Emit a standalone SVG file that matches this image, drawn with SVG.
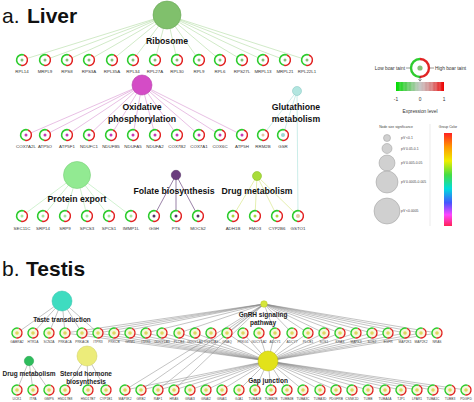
<svg xmlns="http://www.w3.org/2000/svg" xmlns:xlink="http://www.w3.org/1999/xlink" width="474" height="402" viewBox="0 0 474 402">
<style>
text{font-family:"Liberation Sans",Arial,sans-serif}
.ttl{font-size:21px;fill:#111}
.hl{font-size:8.7px;font-weight:bold;fill:#111;text-anchor:middle}
.ht{font-size:6.5px;font-weight:bold;fill:#222;text-anchor:middle}
.gl{font-size:4.4px;fill:#333;text-anchor:middle}
.gt{font-size:3.3px;fill:#444;text-anchor:middle}
.lg{font-size:4.8px;fill:#333}
.lgs{font-size:3.4px;fill:#444}
.cR{stroke:#b2dca2;stroke-width:0.6;fill:none}
.cO{stroke:#d996d2;stroke-width:0.6;fill:none}
.cG{stroke:#a8e0da;stroke-width:0.6;fill:none}
.cP{stroke:#b2eab2;stroke-width:0.6;fill:none}
.cF{stroke:#6e4c82;stroke-width:0.7;fill:none}
.cD{stroke:#d4e47a;stroke-width:0.6;fill:none}
.cT{stroke:#888888;stroke-width:0.5;fill:none}
.dR{fill:#86c078}.dO{fill:#c43cb4}.dG{fill:#9ed8d2}.dP{fill:#a6e6a0}.dF{fill:#553366}.dD{fill:#a8d840}.dM{fill:#e2c6a4}.dT{fill:#dcd860}
</style>
<defs>
<g id="rl"><circle r="5.4" fill="#fff"/><path d="M1.85,-5.07A5.4,5.4 0 0 1 -0.94,5.32" stroke="#e22424" stroke-width="1.6" fill="none"/><path d="M-0.94,5.32A5.4,5.4 0 1 1 1.85,-5.07" stroke="#2ecc2e" stroke-width="1.6" fill="none"/></g>
<g id="rt"><circle r="5" fill="#f8f6dc"/><path d="M1.71,-4.7A5,5 0 0 1 -0.87,4.92" stroke="#e22424" stroke-width="1.4" fill="none"/><path d="M-0.87,4.92A5,5 0 1 1 1.71,-4.7" stroke="#2ecc2e" stroke-width="1.4" fill="none"/><circle r="1.8" class="dT"/></g>
<linearGradient id="gExp" x1="0" y1="0" x2="1" y2="0">
<stop offset="0" stop-color="#00dd00"/><stop offset="0.25" stop-color="#66cc66"/><stop offset="0.5" stop-color="#c8c8c8"/><stop offset="0.75" stop-color="#d88080"/><stop offset="1" stop-color="#ee0000"/>
</linearGradient>
<linearGradient id="gGrp" x1="0" y1="0" x2="0" y2="1">
<stop offset="0" stop-color="#ff2222"/><stop offset="0.15" stop-color="#ff9900"/><stop offset="0.3" stop-color="#eeee00"/><stop offset="0.45" stop-color="#44dd44"/><stop offset="0.6" stop-color="#00dddd"/><stop offset="0.75" stop-color="#4455ff"/><stop offset="0.88" stop-color="#ff44ff"/><stop offset="1" stop-color="#ff2255"/>
</linearGradient>
</defs>

<text class="ttl" x="2" y="23">a.<tspan x="27" font-weight="bold">Liver</tspan></text>
<text class="ttl" x="2" y="276">b.<tspan x="26" font-weight="bold">Testis</tspan></text>

<g id="connectors">
<path class="cR" d="M167 15L22 60M167 15L45 60M167 15L67 60M167 15L89 60M167 15L112 60M167 15L133 60M167 15L155 60M167 15L177 60M167 15L199 60M167 15L220 60M167 15L242 60M167 15L263 60M167 15L285 60M167 15L307 60"/>
<path class="cO" d="M142 85L26 135M142 85L45 135M142 85L67 135M142 85L89 135M142 85L111 135M142 85L133 135M142 85L155 135M142 85L177 135M142 85L199 135M142 85L220 135M142 85L242 135"/>
<path class="cG" d="M297 91L263 135M297 91L283 135M297 91L298 216"/>
<path class="cP" d="M77 175L22 216M77 175L43 216M77 175L65 216M77 175L87 216M77 175L109 216M77 175L131 216"/>
<path class="cF" d="M176 175L154 216M176 175L176 216M176 175L198 216"/>
<path class="cD" d="M257 176L233 216M257 176L255 216M257 176L277 216M257 176L298 216"/>
<path class="cT" d="M62 301L17 333M62 301L33 333M62 301L49 333M62 301L65 333M62 301L82 333M62 301L98 333"/>
<path class="cT" d="M264 304L65 333M264 304L82 333M264 304L98 333M264 304L114 333M264 304L146 333M264 304L179 333M264 304L227 333M264 304L275 333M264 304L292 333M264 304L308 333M264 304L324 333M264 304L340 333M264 304L356 333M264 304L372 333M264 304L388 333M264 304L405 333M264 304L421 333M264 304L437 333M264 304L125 390M264 304L141 390M264 304L158 390M264 304L174 390"/>
<path class="cT" d="M268 361L65 333M268 361L82 333M268 361L98 333M268 361L114 333M268 361L130 333M268 361L146 333M268 361L162 333M268 361L179 333M268 361L195 333M268 361L227 333M268 361L243 333M268 361L259 333M268 361L275 333M268 361L292 333M268 361L308 333M268 361L324 333M268 361L340 333M268 361L356 333M268 361L372 333M268 361L388 333M268 361L405 333M268 361L421 333M268 361L437 333"/>
<path class="cT" d="M268 361L125 390M268 361L141 390M268 361L158 390M268 361L174 390M268 361L190 390M268 361L206 390M268 361L222 390M268 361L239 390M268 361L255 390M268 361L271 390M268 361L287 390M268 361L303 390M268 361L320 390M268 361L336 390M268 361L352 390M268 361L368 390M268 361L385 390M268 361L401 390M268 361L417 390M268 361L433 390M268 361L450 390M268 361L466 390"/>
<path class="cT" d="M29 361L17 390M29 361L33 390M29 361L49 390M87 356L65 390M87 356L88 390M87 356L106 390"/>
</g>

<!-- Liver hubs -->
<g id="hub-ribosome"><circle cx="167" cy="15" r="14" fill="#80c06c" stroke="#6aa858" stroke-width="0.6"/><text class="hl" x="167" y="44">Ribosome</text></g>
<g id="hub-oxphos"><circle cx="142" cy="85" r="10" fill="#d44cc6" stroke="#b43aa8" stroke-width="0.6"/><text class="hl" x="142" y="110">Oxidative</text><text class="hl" x="142" y="122">phosphorylation</text></g>
<g id="hub-glutathione"><circle cx="297" cy="91" r="4.5" fill="#b2e6e0" stroke="#8ccac4" stroke-width="0.6"/><text class="hl" x="296" y="110">Glutathione</text><text class="hl" x="296" y="122">metabolism</text></g>
<g id="hub-protein"><circle cx="77" cy="175" r="13.5" fill="#92ea92" stroke="#78d078" stroke-width="0.6"/><text class="hl" x="77" y="202">Protein export</text></g>
<g id="hub-folate"><circle cx="176" cy="175" r="4.7" fill="#6b3d7e" stroke="#553066" stroke-width="0.6"/><text class="hl" x="174" y="194">Folate biosynthesis</text></g>
<g id="hub-drug-liver"><circle cx="257" cy="176" r="4.5" fill="#a8dc3a" stroke="#8cc02a" stroke-width="0.6"/><text class="hl" x="257" y="194">Drug metabolism</text></g>

<!-- Ribosome genes -->
<g id="RPL14"><use href="#rl" x="22" y="60"/><circle cx="22" cy="60" r="1.5" class="dR"/><text class="gl" x="22" y="73">RPL14</text></g>
<g id="MRPL9"><use href="#rl" x="45" y="60"/><circle cx="45" cy="60" r="1.5" class="dR"/><text class="gl" x="45" y="73">MRPL9</text></g>
<g id="RPS8"><use href="#rl" x="67" y="60"/><circle cx="67" cy="60" r="1.5" class="dR"/><text class="gl" x="67" y="73">RPS8</text></g>
<g id="RPS3A"><use href="#rl" x="89" y="60"/><circle cx="89" cy="60" r="1.5" class="dR"/><text class="gl" x="89" y="73">RPS3A</text></g>
<g id="RPL35A"><use href="#rl" x="112" y="60"/><circle cx="112" cy="60" r="1.5" class="dR"/><text class="gl" x="112" y="73">RPL35A</text></g>
<g id="RPL34"><use href="#rl" x="133" y="60"/><circle cx="133" cy="60" r="1.5" class="dR"/><text class="gl" x="133" y="73">RPL34</text></g>
<g id="RPL27A"><use href="#rl" x="155" y="60"/><circle cx="155" cy="60" r="1.5" class="dR"/><text class="gl" x="155" y="73">RPL27A</text></g>
<g id="RPL30"><use href="#rl" x="177" y="60"/><circle cx="177" cy="60" r="1.5" class="dR"/><text class="gl" x="177" y="73">RPL30</text></g>
<g id="RPL9"><use href="#rl" x="199" y="60"/><circle cx="199" cy="60" r="1.5" class="dR"/><text class="gl" x="199" y="73">RPL9</text></g>
<g id="RPL6"><use href="#rl" x="220" y="60"/><circle cx="220" cy="60" r="1.5" class="dR"/><text class="gl" x="220" y="73">RPL6</text></g>
<g id="RPS27L"><use href="#rl" x="242" y="60"/><circle cx="242" cy="60" r="1.5" class="dR"/><text class="gl" x="242" y="73">RPS27L</text></g>
<g id="MRPL13"><use href="#rl" x="263" y="60"/><circle cx="263" cy="60" r="1.5" class="dR"/><text class="gl" x="263" y="73">MRPL13</text></g>
<g id="MRPL21"><use href="#rl" x="285" y="60"/><circle cx="285" cy="60" r="1.5" class="dR"/><text class="gl" x="285" y="73">MRPL21</text></g>
<g id="RPL22L1"><use href="#rl" x="307" y="60"/><circle cx="307" cy="60" r="1.5" class="dR"/><text class="gl" x="307" y="73">RPL22L1</text></g>

<!-- OxPhos genes -->
<g id="COX7A2L"><use href="#rl" x="26" y="135"/><circle cx="26" cy="135" r="1.5" class="dO"/><text class="gl" x="26" y="148">COX7A2L</text></g>
<g id="ATP5O"><use href="#rl" x="45" y="135"/><circle cx="45" cy="135" r="1.5" class="dO"/><text class="gl" x="45" y="148">ATP5O</text></g>
<g id="ATP5F1"><use href="#rl" x="67" y="135"/><circle cx="67" cy="135" r="1.5" class="dO"/><text class="gl" x="67" y="148">ATP5F1</text></g>
<g id="NDUFC1"><use href="#rl" x="89" y="135"/><circle cx="89" cy="135" r="1.5" class="dO"/><text class="gl" x="89" y="148">NDUFC1</text></g>
<g id="NDUFB5"><use href="#rl" x="111" y="135"/><circle cx="111" cy="135" r="1.5" class="dO"/><text class="gl" x="111" y="148">NDUFB5</text></g>
<g id="NDUFA5"><use href="#rl" x="133" y="135"/><circle cx="133" cy="135" r="1.5" class="dO"/><text class="gl" x="133" y="148">NDUFA5</text></g>
<g id="NDUFA2"><use href="#rl" x="155" y="135"/><circle cx="155" cy="135" r="1.5" class="dO"/><text class="gl" x="155" y="148">NDUFA2</text></g>
<g id="COX7B2"><use href="#rl" x="177" y="135"/><circle cx="177" cy="135" r="1.5" class="dO"/><text class="gl" x="177" y="148">COX7B2</text></g>
<g id="COX7A1"><use href="#rl" x="199" y="135"/><circle cx="199" cy="135" r="1.5" class="dO"/><text class="gl" x="199" y="148">COX7A1</text></g>
<g id="COX6C"><use href="#rl" x="220" y="135"/><circle cx="220" cy="135" r="1.5" class="dO"/><text class="gl" x="220" y="148">COX6C</text></g>
<g id="ATP5H"><use href="#rl" x="242" y="135"/><circle cx="242" cy="135" r="1.5" class="dO"/><text class="gl" x="242" y="148">ATP5H</text></g>
<g id="RRM2B"><use href="#rl" x="263" y="135"/><circle cx="263" cy="135" r="1.5" class="dM"/><text class="gl" x="263" y="148">RRM2B</text></g>
<g id="GSR"><use href="#rl" x="283" y="135"/><circle cx="283" cy="135" r="2" class="dG"/><text class="gl" x="283" y="148">GSR</text></g>

<!-- Protein export genes -->
<g id="SEC11C"><use href="#rl" x="22" y="216"/><circle cx="22" cy="216" r="1.5" class="dP"/><text class="gl" x="22" y="230">SEC11C</text></g>
<g id="SRP14"><use href="#rl" x="43" y="216"/><circle cx="43" cy="216" r="1.5" class="dP"/><text class="gl" x="43" y="230">SRP14</text></g>
<g id="SRP9"><use href="#rl" x="65" y="216"/><circle cx="65" cy="216" r="1.5" class="dP"/><text class="gl" x="65" y="230">SRP9</text></g>
<g id="SPCS3"><use href="#rl" x="87" y="216"/><circle cx="87" cy="216" r="1.5" class="dP"/><text class="gl" x="87" y="230">SPCS3</text></g>
<g id="SPCS1"><use href="#rl" x="109" y="216"/><circle cx="109" cy="216" r="1.5" class="dP"/><text class="gl" x="109" y="230">SPCS1</text></g>
<g id="IMMP1L"><use href="#rl" x="131" y="216"/><circle cx="131" cy="216" r="1.5" class="dP"/><text class="gl" x="131" y="230">IMMP1L</text></g>
<!-- Folate genes -->
<g id="GGH"><use href="#rl" x="154" y="216"/><circle cx="154" cy="216" r="1.5" class="dF"/><text class="gl" x="154" y="230">GGH</text></g>
<g id="PTS"><use href="#rl" x="176" y="216"/><circle cx="176" cy="216" r="1.5" class="dF"/><text class="gl" x="176" y="230">PTS</text></g>
<g id="MOCS2"><use href="#rl" x="198" y="216"/><circle cx="198" cy="216" r="1.5" class="dF"/><text class="gl" x="198" y="230">MOCS2</text></g>
<!-- Drug genes -->
<g id="ADH1B"><use href="#rl" x="233" y="216"/><circle cx="233" cy="216" r="1.5" class="dD"/><text class="gl" x="233" y="230">ADH1B</text></g>
<g id="FMO3"><use href="#rl" x="255" y="216"/><circle cx="255" cy="216" r="1.5" class="dD"/><text class="gl" x="255" y="230">FMO3</text></g>
<g id="CYP2B6"><use href="#rl" x="277" y="216"/><circle cx="277" cy="216" r="1.5" class="dD"/><text class="gl" x="277" y="230">CYP2B6</text></g>
<g id="GSTO1"><use href="#rl" x="298" y="216"/><circle cx="298" cy="216" r="2" class="dM"/><text class="gl" x="298" y="230">GSTO1</text></g>

<!-- Legend -->
<g id="legend-expression">
<line x1="406" y1="68" x2="410" y2="68" stroke="#333" stroke-width="0.5"/>
<line x1="430" y1="68" x2="434" y2="68" stroke="#333" stroke-width="0.5"/>
<text class="lg" x="405" y="69.6" text-anchor="end">Low boar taint</text>
<text class="lg" x="435" y="69.6">High boar taint</text>
<circle cx="420" cy="68" r="9" fill="#fff"/>
<path d="M420,59A9,9 0 0 1 420,77" stroke="#e22424" stroke-width="2.4" fill="none"/>
<path d="M420,77A9,9 0 0 1 420,59" stroke="#2ecc2e" stroke-width="2.4" fill="none"/>
<circle cx="420" cy="68" r="2.6" fill="#86c078"/>
<path d="M420,76V80.5M418.5,79.2L420,81.2L421.5,79.2" stroke="#333" stroke-width="0.5" fill="none"/>
<rect x="396" y="82" width="48" height="9" fill="url(#gExp)"/>
<path d="M400,82v9M404,82v9M408,82v9M412,82v9M416,82v9M424,82v9M428,82v9M432,82v9M436,82v9M440,82v9" stroke="#fff" stroke-opacity="0.35" stroke-width="0.6"/>
<text class="lg" x="396" y="101" text-anchor="middle" font-size="6">-1</text>
<text class="lg" x="420" y="101" text-anchor="middle" font-size="6">0</text>
<text class="lg" x="444" y="101" text-anchor="middle" font-size="6">1</text>
<text class="lg" x="420" y="112.5" text-anchor="middle" font-size="6.5">Expression level</text>
</g>
<g id="legend-size">
<text class="lgs" x="396" y="128" text-anchor="middle" font-size="3.8">Node size significance</text>
<line x1="430" y1="124" x2="430" y2="226" stroke="#dddddd" stroke-width="0.6"/>
<circle cx="387" cy="138" r="3.5" fill="#d0d0d0" stroke="#9a9a9a" stroke-width="0.5"/>
<circle cx="387" cy="148.5" r="5" fill="#d0d0d0" stroke="#9a9a9a" stroke-width="0.5"/>
<circle cx="387" cy="163" r="8" fill="#d0d0d0" stroke="#9a9a9a" stroke-width="0.5"/>
<circle cx="387" cy="182" r="11" fill="#d0d0d0" stroke="#9a9a9a" stroke-width="0.5"/>
<circle cx="387" cy="211" r="13" fill="#d0d0d0" stroke="#9a9a9a" stroke-width="0.5"/>
<text class="lgs" x="401" y="139">pV &lt;0.1</text>
<text class="lgs" x="401" y="149.5">pV 0.05-0.1</text>
<text class="lgs" x="401" y="164">pV 0.005-0.05</text>
<text class="lgs" x="401" y="183">pV 0.0005-0.005</text>
<text class="lgs" x="401" y="212">pV &lt;0.0005</text>
</g>
<g id="legend-group">
<text class="lgs" x="448" y="128" text-anchor="middle" font-size="3.8">Group Color</text>
<rect x="444" y="133" width="8" height="93" fill="url(#gGrp)"/>
</g>

<!-- Testis hubs -->
<g id="hub-taste"><circle cx="62" cy="301" r="10" fill="#3edcc0" stroke="#2ec0a8" stroke-width="0.5"/><text class="ht" x="62" y="322">Taste transduction</text></g>
<g id="hub-gnrh"><circle cx="264" cy="304" r="3.3" fill="#d6e63a" stroke="#b8c828" stroke-width="0.5"/><text class="ht" x="263" y="317">GnRH signaling</text><text class="ht" x="263" y="325">pathway</text></g>
<g id="hub-gap"><circle cx="268" cy="361" r="10" fill="#e2e21a" stroke="#b8b810" stroke-width="0.5"/><text class="ht" x="268" y="383">Gap junction</text></g>
<g id="hub-drug-testis"><circle cx="29" cy="361" r="4.7" fill="#2ebc5c" stroke="#22a04a" stroke-width="0.5"/><text class="ht" x="29" y="376">Drug metabolism</text></g>
<g id="hub-steroid"><circle cx="87" cy="356" r="10" fill="#ecec7a" stroke="#cccc5a" stroke-width="0.5"/><text class="ht" x="86" y="376">Steroid hormone</text><text class="ht" x="86" y="383.5">biosynthesis</text></g>

<!-- Testis row 1 -->
<g id="GABRA2"><use href="#rt" x="17" y="333"/><text class="gt" x="17" y="343">GABRA2</text></g>
<g id="HTR1A"><use href="#rt" x="33" y="333"/><text class="gt" x="33" y="343">HTR1A</text></g>
<g id="SCN2A"><use href="#rt" x="49" y="333"/><text class="gt" x="49" y="343">SCN2A</text></g>
<g id="PRKACA"><use href="#rt" x="65" y="333"/><text class="gt" x="65" y="343">PRKACA</text></g>
<g id="PRKACB"><use href="#rt" x="82" y="333"/><text class="gt" x="82" y="343">PRKACB</text></g>
<g id="ITPR3"><use href="#rt" x="98" y="333"/><text class="gt" x="98" y="343">ITPR3</text></g>
<g id="PRKCB"><use href="#rt" x="114" y="333"/><text class="gt" x="114" y="343">PRKCB</text></g>
<g id="GRM1"><use href="#rt" x="130" y="333"/><text class="gt" x="130" y="343">GRM1</text></g>
<g id="ITPR1"><use href="#rt" x="146" y="333"/><text class="gt" x="146" y="343">ITPR1</text></g>
<g id="GUCY1B3"><use href="#rt" x="162" y="333"/><text class="gt" x="162" y="343">GUCY1B3</text></g>
<g id="PLCB4"><use href="#rt" x="179" y="333"/><text class="gt" x="179" y="343">PLCB4</text></g>
<g id="GUCY1A3"><use href="#rt" x="195" y="333"/><text class="gt" x="195" y="343">GUCY1A3</text></g>
<g id="CYP11A1"><use href="#rt" x="211" y="333"/><text class="gt" x="211" y="343">CYP11A1</text></g>
<g id="GNAQ"><use href="#rt" x="227" y="333"/><text class="gt" x="227" y="343">GNAQ</text></g>
<g id="PRKG1"><use href="#rt" x="243" y="333"/><text class="gt" x="243" y="343">PRKG1</text></g>
<g id="GUCY1A2"><use href="#rt" x="259" y="333"/><text class="gt" x="259" y="343">GUCY1A2</text></g>
<g id="ADCY1"><use href="#rt" x="275" y="333"/><text class="gt" x="275" y="343">ADCY1</text></g>
<g id="ADCY7"><use href="#rt" x="292" y="333"/><text class="gt" x="292" y="343">ADCY7</text></g>
<g id="PLCB1"><use href="#rt" x="308" y="333"/><text class="gt" x="308" y="343">PLCB1</text></g>
<g id="SOS1"><use href="#rt" x="324" y="333"/><text class="gt" x="324" y="343">SOS1</text></g>
<g id="KRAS"><use href="#rt" x="340" y="333"/><text class="gt" x="340" y="343">KRAS</text></g>
<g id="MAPK3"><use href="#rt" x="356" y="333"/><text class="gt" x="356" y="343">MAPK3</text></g>
<g id="SOS2"><use href="#rt" x="372" y="333"/><text class="gt" x="372" y="343">SOS2</text></g>
<g id="EGFR"><use href="#rt" x="388" y="333"/><text class="gt" x="388" y="343">EGFR</text></g>
<g id="MAP2K1"><use href="#rt" x="405" y="333"/><text class="gt" x="405" y="343">MAP2K1</text></g>
<g id="MAP2K2"><use href="#rt" x="421" y="333"/><text class="gt" x="421" y="343">MAP2K2</text></g>
<g id="NRAS"><use href="#rt" x="437" y="333"/><text class="gt" x="437" y="343">NRAS</text></g>

<!-- Testis row 2 -->
<g id="UCK1"><use href="#rt" x="17" y="390"/><text class="gt" x="17" y="400">UCK1</text></g>
<g id="ITPA"><use href="#rt" x="33" y="390"/><text class="gt" x="33" y="400">ITPA</text></g>
<g id="GMPS"><use href="#rt" x="49" y="390"/><text class="gt" x="49" y="400">GMPS</text></g>
<g id="HSD17B8"><use href="#rt" x="65" y="390"/><text class="gt" x="65" y="400">HSD17B8</text></g>
<g id="HSD17B7"><use href="#rt" x="88" y="390"/><text class="gt" x="88" y="400">HSD17B7</text></g>
<g id="CYP1B1"><use href="#rt" x="106" y="390"/><text class="gt" x="106" y="400">CYP1B1</text></g>
<g id="MAP3K2"><use href="#rt" x="125" y="390"/><text class="gt" x="125" y="400">MAP3K2</text></g>
<g id="GRB2"><use href="#rt" x="141" y="390"/><text class="gt" x="141" y="400">GRB2</text></g>
<g id="RAF1"><use href="#rt" x="158" y="390"/><text class="gt" x="158" y="400">RAF1</text></g>
<g id="HRAS"><use href="#rt" x="174" y="390"/><text class="gt" x="174" y="400">HRAS</text></g>
<g id="GNAI3"><use href="#rt" x="190" y="390"/><text class="gt" x="190" y="400">GNAI3</text></g>
<g id="GNAI2"><use href="#rt" x="206" y="390"/><text class="gt" x="206" y="400">GNAI2</text></g>
<g id="GNAI1"><use href="#rt" x="222" y="390"/><text class="gt" x="222" y="400">GNAI1</text></g>
<g id="GJA1"><use href="#rt" x="239" y="390"/><text class="gt" x="239" y="400">GJA1</text></g>
<g id="TUBA1B"><use href="#rt" x="255" y="390"/><text class="gt" x="255" y="400">TUBA1B</text></g>
<g id="TUBB2B"><use href="#rt" x="271" y="390"/><text class="gt" x="271" y="400">TUBB2B</text></g>
<g id="TUBB4B"><use href="#rt" x="287" y="390"/><text class="gt" x="287" y="400">TUBB4B</text></g>
<g id="TUBA3C"><use href="#rt" x="303" y="390"/><text class="gt" x="303" y="400">TUBA3C</text></g>
<g id="TUBA3D"><use href="#rt" x="320" y="390"/><text class="gt" x="320" y="400">TUBA3D</text></g>
<g id="PDGFRB"><use href="#rt" x="336" y="390"/><text class="gt" x="336" y="400">PDGFRB</text></g>
<g id="CSNK1D"><use href="#rt" x="352" y="390"/><text class="gt" x="352" y="400">CSNK1D</text></g>
<g id="TUBB"><use href="#rt" x="368" y="390"/><text class="gt" x="368" y="400">TUBB</text></g>
<g id="TUBA4A"><use href="#rt" x="385" y="390"/><text class="gt" x="385" y="400">TUBA4A</text></g>
<g id="TJP1"><use href="#rt" x="401" y="390"/><text class="gt" x="401" y="400">TJP1</text></g>
<g id="LPAR1"><use href="#rt" x="417" y="390"/><text class="gt" x="417" y="400">LPAR1</text></g>
<g id="TUBA1C"><use href="#rt" x="433" y="390"/><text class="gt" x="433" y="400">TUBA1C</text></g>
<g id="TUBB3"><use href="#rt" x="450" y="390"/><text class="gt" x="450" y="400">TUBB3</text></g>
<g id="PDGFD"><use href="#rt" x="466" y="390"/><text class="gt" x="466" y="400">PDGFD</text></g>
</svg>
